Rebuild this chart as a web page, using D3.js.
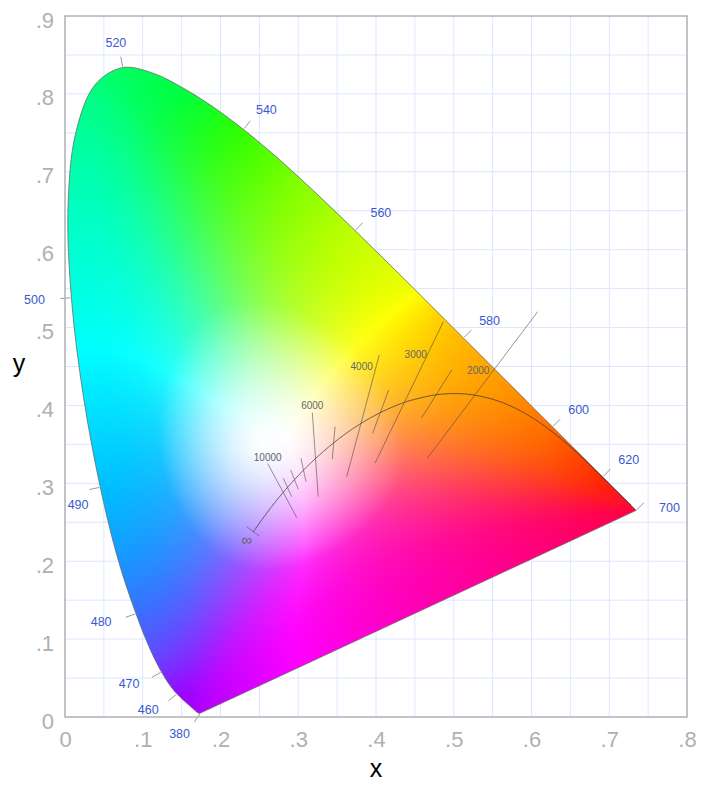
<!DOCTYPE html>
<html>
<head>
<meta charset="utf-8">
<title>CIE 1931 chromaticity diagram</title>
<style>
body{margin:0; background:#fff;}
svg{display:block; font-family:"Liberation Sans", Arial, sans-serif;}
.grid line{stroke:#dde6ff; stroke-width:1;}
.axis text{fill:#b0b0b0; font-size:22px;}
.wl text{fill:#3a58d0; font-size:12.5px;}
.iso text{fill:#666; font-size:10px;}
</style>
</head>
<body>
<div id="chart"></div>
<script src="https://cdn.jsdelivr.net/npm/d3@7/dist/d3.min.js"></script>
<script>
// spectral locus (CIE 1931 2deg), 380..700 nm in 5 nm steps
var wavelengths = d3.range(380, 705, 5);
var locusX = [0.1741,0.1740,0.1738,0.1736,0.1733,0.1730,0.1726,0.1721,
              0.1714,0.1703,0.1689,0.1669,0.1644,0.1611,0.1566,0.1510,
              0.1440,0.1355,0.1241,0.1096,0.0913,0.0687,0.0454,0.0235,
              0.0082,0.0039,0.0139,0.0389,0.0743,0.1142,0.1547,0.1929,
              0.2296,0.2658,0.3016,0.3373,0.3731,0.4087,0.4441,0.4788,
              0.5125,0.5448,0.5752,0.6029,0.6270,0.6482,0.6658,0.6801,
              0.6915,0.7006,0.7079,0.7140,0.7190,0.7230,0.7260,0.7283,
              0.7300,0.7311,0.7320,0.7327,0.7334,0.7340,0.7344,0.7346,0.7347];
var locusY = [0.0050,0.0050,0.0049,0.0049,0.0048,0.0048,0.0048,0.0048,
              0.0051,0.0058,0.0069,0.0086,0.0109,0.0138,0.0177,0.0227,
              0.0297,0.0399,0.0578,0.0868,0.1327,0.2007,0.2950,0.4127,
              0.5384,0.6548,0.7502,0.8120,0.8338,0.8262,0.8059,0.7816,
              0.7543,0.7243,0.6923,0.6589,0.6245,0.5896,0.5547,0.5202,
              0.4866,0.4544,0.4242,0.3965,0.3725,0.3514,0.3340,0.3197,
              0.3083,0.2993,0.2920,0.2859,0.2809,0.2770,0.2740,0.2717,
              0.2700,0.2689,0.2680,0.2673,0.2666,0.2660,0.2656,0.2654,0.2653];
var labelledWl = [380,460,470,480,490,500,520,540,560,580,600,620,700];

// planckian locus
var planckT = [500,600,700,800,900,1000,1200,1400,1600,1800,2000,2200,2500,2800,3000,
               3500,4000,4500,5000,5500,6000,7000,8000,9000,10000,12000,15000,20000,30000,50000,100000];
var planckX = [0.7285,0.7190,0.7051,0.6883,0.6697,0.6528,0.6251,0.5985,0.5732,0.5493,0.5267,0.5056,0.4770,0.4519,0.4369,
               0.4053,0.3805,0.3608,0.3451,0.3325,0.3221,0.3064,0.2952,0.2869,0.2807,0.2719,0.2637,0.2565,0.2501,0.2453,0.2418];
var planckY = [0.2713,0.2806,0.2942,0.3106,0.3287,0.3444,0.3674,0.3858,0.3993,0.4082,0.4133,0.4152,0.4137,0.4083,0.4041,
               0.3907,0.3768,0.3636,0.3516,0.3411,0.3318,0.3166,0.3048,0.2956,0.2884,0.2779,0.2674,0.2577,0.2489,0.2421,0.2375];

// isotherms (end points)
var isoT  = [10000,9000,8000,7000,6000,5000,4000,3500,3000,2500,2000,Infinity];
var isoX1 = [0.2607,0.2808,0.2903,0.3035,0.3181,0.3473,0.4042,0.4163,0.4866,0.4974,0.6080,0.2337];
var isoY1 = [0.3255,0.3065,0.3171,0.3321,0.3907,0.3727,0.4647,0.4198,0.5075,0.4455,0.5204,0.2443];
var isoX2 = [0.2980,0.2916,0.3001,0.3100,0.3257,0.3438,0.3623,0.3957,0.3987,0.4588,0.4660,0.2499];
var isoY2 = [0.2561,0.2829,0.2923,0.3021,0.2829,0.3312,0.3085,0.3642,0.3257,0.3843,0.3322,0.2324];
var isoLabelT = [10000,6000,4000,3000,2000,Infinity];
var isoLabelX = [0.2607,0.3181,0.3816,0.4511,0.5316,0.2337];
var isoLabelY = [0.3338,0.3993,0.4497,0.4660,0.4446,0.2281];

// fill palette: colours sampled along the edge of the picture
var edgeWl  = [380,440,455,460,465,470,475,480,485,490,495,500,505,510,515,520,530,540,550,560,570,575,580,590,600,610,620,640,700];
var edgeHex = ['#b000ff','#a800ff','#a000ff','#9808ff','#8a18ff','#7a30ff','#5c50ff','#3a70ff','#1898ff','#00c0ff',
               '#00dcf0','#00f0d8','#00f8bc','#00ff9c','#00ff7c','#00ff60','#00ff40','#30ff00','#80ff00','#c0ff00',
               '#dcec00','#f8d000','#ffb800','#ff9400','#ff6c00','#ff4400','#ff2800','#ff1028','#ff0044'];
var purpleStop = [0,0.24,0.49,0.69,0.86,1];      // 700nm -> 380nm along the line of purples
var purpleHex  = ['#ff0044','#ff0080','#ff00b4','#f400dc','#d800f4','#b000ff'];
var whitePoint = [0.255,0.352];

var xTicks = [0,0.1,0.2,0.3,0.4,0.5,0.6,0.7,0.8];
var yTicks = [0,0.1,0.2,0.3,0.4,0.5,0.6,0.7,0.8,0.9];

var W = 710, H = 786;
var margin = {top: 16, right: 23, bottom: 69, left: 65};
var labelNudge = {490: [14, 12], 700: [7, 15]};   // hand placed labels in the original

var x = d3.scaleLinear().domain([0, 0.8]).range([margin.left, W - margin.right]);
var y = d3.scaleLinear().domain([0, 0.9]).range([H - margin.bottom, margin.top]);

var svg = d3.select('#chart').append('svg')
    .attr('width', W)
    .attr('height', H);

var locus = wavelengths.map((wl, i) => ({wl: wl, x: locusX[i], y: locusY[i], px: x(locusX[i]), py: y(locusY[i])}));

//gridlines every .05
var grid = svg.append('g').attr('class', 'grid');
grid.selectAll('line.v')
    .data(d3.range(0, 16.5).map(k => k * 0.05))
  .enter().append('line')
    .attr('class', 'v')
    .attr('x1', d => x(d)).attr('x2', d => x(d))
    .attr('y1', y(0)).attr('y2', y(0.9));
grid.selectAll('line.h')
    .data(d3.range(0, 18.5).map(k => k * 0.05))
  .enter().append('line')
    .attr('class', 'h')
    .attr('x1', x(0)).attr('x2', x(0.8))
    .attr('y1', d => y(d)).attr('y2', d => y(d));

//colour fill: edge colours spread inwards (inverse distance weights), whitened towards the centre
var edgeColor = d3.scaleLinear().domain(edgeWl).range(edgeHex).interpolate(d3.interpolateRgb).clamp(true);
var purpleColor = d3.scaleLinear().domain(purpleStop).range(purpleHex).interpolate(d3.interpolateRgb).clamp(true);

var ring = locus.map(d => ({px: d.px, py: d.py, c: d3.rgb(edgeColor(d.wl))}));
var pA = locus[locus.length - 1], pB = locus[0];
for (var k = 1; k < 60; k++) {
  var t = k / 60;
  ring.push({px: x(pA.x + (pB.x - pA.x) * t), py: y(pA.y + (pB.y - pA.y) * t), c: d3.rgb(purpleColor(t))});
}

var cx = x(whitePoint[0]), cy = y(whitePoint[1]);

// even samples along the closed edge
var samples = [], carry = 0, step = 5;
ring.forEach(function(a, i) {
  var b = ring[(i + 1) % ring.length];
  var len = Math.hypot(b.px - a.px, b.py - a.py), s = carry;
  while (s < len) {
    var t = s / len;
    samples.push([a.px + (b.px - a.px) * t, a.py + (b.py - a.py) * t,
                  a.c.r + (b.c.r - a.c.r) * t, a.c.g + (b.c.g - a.c.g) * t, a.c.b + (b.c.b - a.c.b) * t]);
    s += step;
  }
  carry = s - len;
});
var ns = samples.length;
var SX = new Float64Array(ns), SY = new Float64Array(ns), SR = new Float64Array(ns),
    SG = new Float64Array(ns), SB = new Float64Array(ns), SD = new Float64Array(ns);
samples.forEach(function(s, i) {
  SX[i] = s[0]; SY[i] = s[1]; SR[i] = s[2]; SG[i] = s[3]; SB[i] = s[4];
  SD[i] = Math.hypot(s[0] - cx, s[1] - cy);
});

var scale = 2;
var pw = Math.round(x(0.8) - x(0)), ph = Math.round(y(0) - y(0.9));
var cw = Math.ceil(pw / scale), ch = Math.ceil(ph / scale);
var canvas = document.createElement('canvas');
canvas.width = cw; canvas.height = ch;
var ctx = canvas.getContext('2d');
var img = ctx.createImageData(cw, ch);
for (var j = 0; j < ch; j++) {
  for (var i = 0; i < cw; i++) {
    var sx = x(0) + (i + 0.5) * scale, sy = y(0.9) + (j + 0.5) * scale;
    var sw = 0, sr = 0, sg = 0, sb = 0, sd = 0;
    for (var q = 0; q < ns; q++) {
      var ex = SX[q] - sx, ey = SY[q] - sy;
      var d2 = ex * ex + ey * ey + 9;
      var w = 1 / (d2 * Math.sqrt(d2));
      sw += w; sr += w * SR[q]; sg += w * SG[q]; sb += w * SB[q]; sd += w * SD[q];
    }
    var m = Math.max(sr, sg, sb) || 1;
    sr = sr / m * 255; sg = sg / m * 255; sb = sb / m * 255;
    // how far towards the edge, smooth version of |P-C| / |edge-C|
    var r = Math.hypot(sx - cx, sy - cy) / (sd / sw);
    var f = Math.min(1, r * 1.8);
    var o = (j * cw + i) * 4;
    img.data[o]     = 255 + (sr - 255) * f;
    img.data[o + 1] = 255 + (sg - 255) * f;
    img.data[o + 2] = 255 + (sb - 255) * f;
    img.data[o + 3] = 255;
  }
}
ctx.putImageData(img, 0, 0);

var outline = d3.line().x(d => d.px).y(d => d.py).curve(d3.curveCatmullRom);
svg.append('clipPath').attr('id', 'horseshoe')
  .append('path').attr('d', outline(locus) + 'Z');

svg.append('image')
    .attr('x', x(0)).attr('y', y(0.9))
    .attr('width', cw * scale).attr('height', ch * scale)
    .attr('preserveAspectRatio', 'none')
    .attr('clip-path', 'url(#horseshoe)')
    .attr('href', canvas.toDataURL());

svg.append('path')
    .attr('d', outline(locus) + 'Z')
    .attr('fill', 'none')
    .attr('stroke', '#6a6a6a')
    .attr('stroke-width', 0.8);

//wavelength ticks and labels, along the outward normal
function normalAt(i) {
  var p = locus[i], a = p, b = p;
  for (var j = i - 1; j >= 0; j--) { if (Math.hypot(locus[j].px - p.px, locus[j].py - p.py) >= 12) { a = locus[j]; break; } }
  for (var j = i + 1; j < locus.length; j++) { if (Math.hypot(locus[j].px - p.px, locus[j].py - p.py) >= 12) { b = locus[j]; break; } }
  var tx = b.px - a.px, ty = b.py - a.py, l = Math.hypot(tx, ty);
  return [ty / l, -tx / l];
}
var wlMarks = labelledWl.map(function(wl) {
  var i = wavelengths.indexOf(wl);
  return {wl: wl, p: locus[i], n: normalAt(i), nudge: labelNudge[wl] || [0, 0]};
});
var wlG = svg.append('g').attr('class', 'wl');
wlG.selectAll('line')
    .data(wlMarks)
  .enter().append('line')
    .attr('x1', d => d.p.px + d.n[0]).attr('y1', d => d.p.py + d.n[1])
    .attr('x2', d => d.p.px + d.n[0] * 11).attr('y2', d => d.p.py + d.n[1] * 11)
    .attr('stroke', '#999')
    .attr('stroke-width', 1);
wlG.selectAll('text')
    .data(wlMarks)
  .enter().append('text')
    .attr('x', d => d.p.px + d.n[0] * 37 + d.nudge[0])
    .attr('y', d => d.p.py + d.n[1] * 25 + d.nudge[1])
    .attr('dy', '.35em')
    .attr('text-anchor', 'middle')
    .text(d => d.wl);

//planckian locus and isotherms
var planck = planckT.map((T, i) => ({T: T, x: planckX[i], y: planckY[i]}));
svg.append('path')
    .datum(planck)
    .attr('d', d3.line().x(d => x(d.x)).y(d => y(d.y)).curve(d3.curveCatmullRom))
    .attr('fill', 'none')
    .attr('stroke', '#333')
    .attr('stroke-width', 0.7);

var isoG = svg.append('g').attr('class', 'iso');
isoG.selectAll('line')
    .data(isoT.map((T, i) => ({T: T, x1: isoX1[i], y1: isoY1[i], x2: isoX2[i], y2: isoY2[i]})))
  .enter().append('line')
    .attr('x1', d => x(d.x1)).attr('y1', d => y(d.y1))
    .attr('x2', d => x(d.x2)).attr('y2', d => y(d.y2))
    .attr('stroke', '#444')
    .attr('stroke-opacity', 0.8)
    .attr('stroke-width', 0.7);
isoG.selectAll('text')
    .data(isoLabelT.map((T, i) => ({T: T, x: isoLabelX[i], y: isoLabelY[i]})))
  .enter().append('text')
    .attr('x', d => x(d.x))
    .attr('y', d => y(d.y))
    .attr('dy', '.35em')
    .attr('text-anchor', 'middle')
    .style('font-size', d => isFinite(d.T) ? null : '15px')
    .text(d => isFinite(d.T) ? d.T : '∞');

//axes
var fmt = d => d === 0 ? '0' : d3.format('.1f')(d).replace(/^0/, '');
svg.append('g')
    .attr('class', 'axis')
    .attr('transform', 'translate(0,' + y(0) + ')')
    .call(d3.axisBottom(x).tickValues(xTicks).tickFormat(fmt).tickSize(0).tickPadding(14.5))
    .call(g => g.select('.domain').remove());
svg.append('g')
    .attr('class', 'axis')
    .attr('transform', 'translate(' + x(0) + ',0)')
    .call(d3.axisLeft(y).tickValues(yTicks).tickFormat(fmt).tickSize(0).tickPadding(11))
    .call(g => g.select('.domain').remove())
    .selectAll('text').attr('dy', '.5em');
svg.selectAll('.axis').attr('font-family', null).attr('font-size', null);

//frame
svg.append('rect')
    .attr('x', x(0)).attr('y', y(0.9))
    .attr('width', x(0.8) - x(0)).attr('height', y(0) - y(0.9))
    .attr('fill', 'none')
    .attr('stroke', '#b4b4b4')
    .attr('stroke-width', 1.5);

//axis titles
svg.append('text')
    .attr('x', (x(0) + x(0.8)) / 2)
    .attr('y', 777)
    .attr('text-anchor', 'middle')
    .style('font-size', '25px')
    .text('x');
svg.append('text')
    .attr('x', 19)
    .attr('y', 372)
    .attr('text-anchor', 'middle')
    .style('font-size', '25px')
    .text('y');
</script>
</body>
</html>
